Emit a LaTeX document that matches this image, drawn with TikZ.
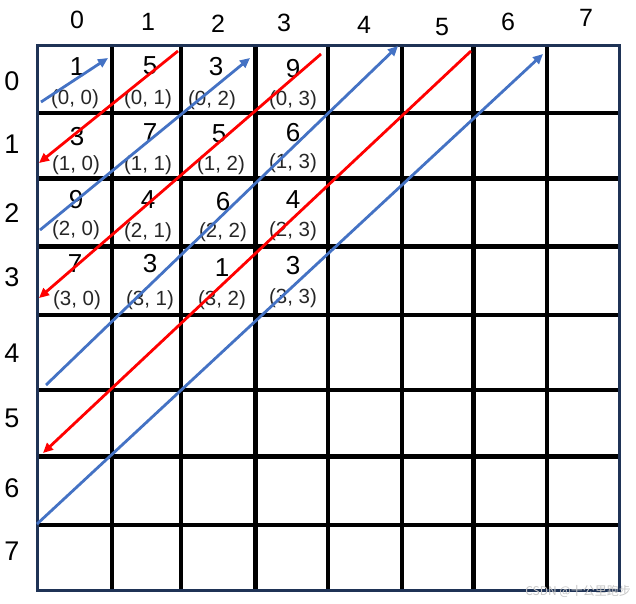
\documentclass[tikz,border=0pt]{standalone}
\usepackage{fontspec}
\setmainfont{Liberation Sans}
\newfontfamily\cjkfont{Noto Sans CJK SC}
\usetikzlibrary{arrows.meta}
\definecolor{navy}{HTML}{1F3356}
\definecolor{myblue}{HTML}{4472C4}
\definecolor{myred}{HTML}{FF0000}
\begin{document}
\begin{tikzpicture}[x=1pt,y=-1pt,
  hdr/.style={font=\fontsize{25}{25}\selectfont,inner sep=0pt},
  rhdr/.style={font=\fontsize{27}{27}\selectfont,inner sep=0pt},
  val/.style={font=\fontsize{26}{26}\selectfont,inner sep=0pt},
  idx/.style={font=\fontsize{20.5}{20.5}\selectfont,inner sep=0pt,text=black!85},
  gridline/.style={line width=4.2pt,black},
  bluearr/.style={myblue,line width=2.8pt,-{Triangle[length=10pt,width=9pt]}},
  redarr/.style={myred,line width=2.8pt,-{Triangle[length=10pt,width=9pt]}}]
\useasboundingbox (0,0) rectangle (636,603);
\fill[white] (0,0) rectangle (636,603);
% grid
\foreach \x in {112,181,255.5,328,402,473.5,547}
  \draw[gridline] (\x,45.5) -- (\x,590.5);
\foreach \y in {113,178.5,246.5,315,390,456.5,525}
  \draw[gridline] (37.5,\y) -- (619.5,\y);
\draw[navy,line width=3.8pt] (37.5,45.5) rectangle (619.5,590.5);
% headers
\node[hdr] (c0) at (77,20) {0};
\node[hdr] (c1) at (148,22) {1};
\node[hdr] (c2) at (218,24) {2};
\node[hdr] (c3) at (284,23) {3};
\node[hdr] (c4) at (364,25) {4};
\node[hdr] (c5) at (442,27) {5};
\node[hdr] (c6) at (508,22) {6};
\node[hdr] (c7) at (586,18) {7};
\node[rhdr] (r0) at (12,81) {0};
\node[rhdr] (r1) at (12,144) {1};
\node[rhdr] (r2) at (12,213) {2};
\node[rhdr] (r3) at (12,277) {3};
\node[rhdr] (r4) at (12,353) {4};
\node[rhdr] (r5) at (12,418) {5};
\node[rhdr] (r6) at (12,488) {6};
\node[rhdr] (r7) at (12,551) {7};
% arrow end points
\coordinate (b1s) at (41,102);  \coordinate (b1e) at (108,58);
\coordinate (r1s) at (178,51);  \coordinate (r1e) at (39,163);
\coordinate (b2s) at (40,230);  \coordinate (b2e) at (250,58);
\coordinate (r2s) at (321,54);  \coordinate (r2e) at (39,298);
\coordinate (b3s) at (46,385);  \coordinate (b3e) at (398,46);
\coordinate (r3s) at (471,51);  \coordinate (r3e) at (43,453);
\coordinate (b4s) at (37,524);  \coordinate (b4e) at (543,54);
% cell values
\node[val] (v00) at (77,67) {1};   \node[idx] (i00) at (75,99) {(0, 0)};
\node[val] (v01) at (150,66) {5};  \node[idx] (i01) at (148,99) {(0, 1)};
\node[val] (v02) at (216,67) {3};  \node[idx] (i02) at (212,100) {(0, 2)};
\node[val] (v03) at (293,69) {9};  \node[idx] (i03) at (293,100) {(0, 3)};
\node[val] (v10) at (77,137) {3};  \node[idx] (i10) at (76,165) {(1, 0)};
\node[val] (v11) at (150,133) {7}; \node[idx] (i11) at (148,165) {(1, 1)};
\node[val] (v12) at (219,134) {5}; \node[idx] (i12) at (221,165) {(1, 2)};
\node[val] (v13) at (293,133) {6}; \node[idx] (i13) at (293,163) {(1, 3)};
\node[val] (v20) at (76,200) {9};  \node[idx] (i20) at (76,230) {(2, 0)};
\node[val] (v21) at (148,200) {4}; \node[idx] (i21) at (148,232) {(2, 1)};
\node[val] (v22) at (223,202) {6}; \node[idx] (i22) at (223,232) {(2, 2)};
\node[val] (v23) at (293,200) {4}; \node[idx] (i23) at (293,231) {(2, 3)};
\node[val] (v30) at (75,264) {7};  \node[idx] (i30) at (77,300) {(3, 0)};
\node[val] (v31) at (150,264) {3}; \node[idx] (i31) at (150,300) {(3, 1)};
\node[val] (v32) at (222,268) {1}; \node[idx] (i32) at (222,300) {(3, 2)};
\node[val] (v33) at (293,266) {3}; \node[idx] (i33) at (293,298) {(3, 3)};
% arrows on top
\draw[bluearr] (b1s) -- (b1e);
\draw[redarr] (r1s) -- (r1e);
\draw[bluearr] (b2s) -- (b2e);
\draw[redarr] (r2s) -- (r2e);
\draw[bluearr] (b3s) -- (b3e);
\draw[redarr] (r3s) -- (r3e);
\draw[bluearr] (b4s) -- (b4e);
% watermark
\node[font=\cjkfont\fontsize{12}{12}\selectfont,text=black!22,anchor=east,inner sep=0pt] (wm) at (631,591) {CSDN @十公里跑步};
\end{tikzpicture}
\end{document}
